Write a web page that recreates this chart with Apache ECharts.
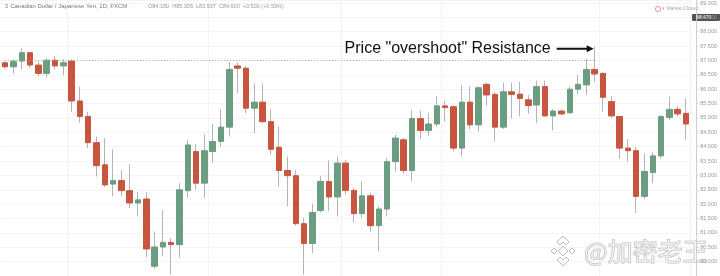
<!DOCTYPE html>
<html>
<head>
<meta charset="utf-8">
<script src="https://cdn.jsdelivr.net/npm/echarts@6/dist/echarts.min.js"></script>
<style>
html,body{margin:0;padding:0;background:#fff;}
#chart{width:720px;height:276px;}
</style>
</head>
<body>
<div id="chart"></div>
<script>
// ---- data ----
const opens  = [86.92,86.78,86.98,87.27,86.84,86.55,87.01,86.81,86.98,85.59,85.05,84.14,83.37,82.70,82.82,82.47,82.04,82.18,79.84,80.51,80.67,80.59,82.47,83.83,82.73,83.83,84.18,84.68,86.81,86.73,85.34,85.55,84.87,83.98,83.17,82.99,81.32,80.63,81.78,82.79,82.25,83.43,82.48,81.67,82.29,81.25,81.83,83.48,84.24,83.17,84.98,84.56,84.79,85.42,85.39,83.95,85.55,84.76,86.17,85.82,84.68,85.91,85.83,85.63,85.45,86.09,85.07,85.24,85.18,86.00,86.15,86.69,86.55,85.57,85.05,83.95,83.86,82.27,83.10,83.68,85.02,85.30,85.16];
const closes = [86.78,86.97,87.27,86.84,86.55,87.01,86.81,86.92,85.59,85.05,84.14,83.34,82.67,82.82,82.47,82.04,82.15,80.44,80.51,80.67,80.59,82.50,84.06,82.73,83.86,84.18,84.68,86.69,86.73,85.34,85.55,84.87,83.91,83.17,82.99,81.32,80.63,81.71,82.79,82.25,83.43,82.48,81.67,82.29,81.25,81.83,83.48,84.30,83.17,84.98,84.56,84.79,85.42,85.36,83.95,85.55,84.76,86.05,85.80,84.68,85.91,85.82,85.68,85.43,86.09,85.07,85.24,85.14,86.00,86.17,86.69,86.53,85.72,85.07,83.95,83.86,82.27,83.14,83.68,85.05,85.30,85.14,84.79];
const lows   = [86.72,86.55,86.69,86.73,86.46,86.41,86.69,86.49,85.22,84.84,83.95,82.96,82.60,82.27,82.27,81.86,81.57,80.16,79.75,80.18,79.55,80.13,82.21,82.50,82.22,83.44,84.00,84.35,85.87,85.17,84.47,84.82,83.72,82.61,81.92,81.25,79.55,80.30,81.71,81.75,81.57,82.33,81.36,81.52,81.05,80.36,81.57,83.14,83.05,82.79,84.26,84.38,84.70,84.87,83.85,83.66,84.60,84.52,85.42,84.18,84.61,84.99,85.05,85.14,84.82,85.05,84.56,85.10,85.15,85.82,85.80,86.26,85.22,85.00,83.57,83.48,81.69,82.18,82.73,83.60,84.93,85.05,84.24];
const highs  = [86.96,87.05,87.42,87.30,86.95,87.07,87.15,87.04,87.04,86.09,85.22,84.35,84.30,83.91,83.19,83.40,82.44,82.41,81.05,81.81,80.82,82.73,84.24,84.10,84.44,84.79,85.30,86.95,86.94,86.80,86.20,86.20,85.28,84.70,83.66,83.19,81.52,82.01,82.99,83.52,83.66,83.54,82.56,82.79,82.39,81.92,83.60,84.41,84.30,85.28,85.25,85.18,85.76,85.60,85.45,86.15,86.09,86.10,86.23,85.91,86.23,86.23,86.26,85.80,86.30,86.30,85.30,85.30,86.09,86.49,87.07,87.48,86.60,85.76,85.07,84.26,83.98,83.77,83.80,85.10,85.74,85.42,85.68];
const categories = opens.map((_, i) => 'D' + (i + 1));
const resistanceLevel = 87.0;
const overshootIndex = 71;
const overshootValue = 87.41;
const headerTitle = '\u2261 Canadian Dollar / Japanese Yen, 1D, FXCM \u00b7';
const headerValues = 'O84.180  H85.305  L83.937  C84.600  +0.500 (+0.59%)';
const annotationText = 'Price "overshoot" Resistance';
const badgeText = '88.470';
const watermarkText = '@\u52a0\u5bc6\u8001\u738b';

const RED = '#c8553f';
const GREEN = '#6b9e80';
const WICK = '#b4b4b4';

const wickData = opens.map((o, i) => [o, closes[i], lows[i], highs[i]]);
const bodyData = opens.map((o, i) => [o, closes[i], Math.min(o, closes[i]), Math.max(o, closes[i])]);

const chart = echarts.init(document.getElementById('chart'), null, {renderer: 'canvas'});
chart.setOption({
  animation: false,
  backgroundColor: '#ffffff',
  grid: {left: 1, right: 26, top: 0, bottom: 0, containLabel: false},
  xAxis: {
    type: 'category', data: categories, boundaryGap: true,
    axisLine: {show: false}, axisTick: {show: false}, axisLabel: {show: false},
    splitLine: {show: true, interval: (i) => [8, 25, 41, 53, 72].includes(i), lineStyle: {color: '#f3f3f3', width: 1}}
  },
  yAxis: {
    type: 'value', position: 'right', offset: 6, min: 79.5, max: 89.1, interval: 0.5,
    axisLine: {show: true, lineStyle: {color: '#cfcfcf'}},
    axisTick: {show: true, length: 2, lineStyle: {color: '#cfcfcf'}},
    axisLabel: {show: true, showMinLabel: false, showMaxLabel: false, fontSize: 5.5, color: '#9a9a9a', margin: 4,
      fontFamily: 'Liberation Sans, Arial, sans-serif', formatter: (v) => v.toFixed(3)},
    splitLine: {show: true, lineStyle: {color: '#f4f4f4', width: 1}}
  },
  series: [
    {
      type: 'candlestick', data: wickData, barWidth: 1, z: 2,
      itemStyle: {color: WICK, color0: WICK, borderColor: WICK, borderColor0: WICK, borderWidth: 1}
    },
    {
      type: 'candlestick', data: bodyData, barWidth: 6, z: 3,
      itemStyle: {color: GREEN, color0: RED, borderColor: GREEN, borderColor0: RED, borderWidth: 1},
      markLine: {
        silent: true, symbol: ['none', 'none'], label: {show: false},
        lineStyle: {color: '#a8a8a8', type: [1, 2], width: 1},
        data: [[{coord: [0, resistanceLevel]}, {coord: [overshootIndex, resistanceLevel]}]]
      }
    }
  ]
});

const tip = chart.convertToPixel({gridIndex: 0}, [overshootIndex, overshootValue]);
const tx = tip[0], ty = tip[1];
chart.setOption({
  graphic: [
    {type: 'text', left: 5, top: 3, style: {text: headerTitle, fontSize: 6, fill: '#777', fontFamily: 'Liberation Sans, Arial, sans-serif'}},
    {type: 'text', left: 148, top: 3, style: {text: headerValues, fontSize: 5.5, fill: '#999', fontFamily: 'Liberation Sans, Arial, sans-serif'}},
    {type: 'circle', shape: {cx: 658, cy: 9, r: 2.6}, style: {fill: '#fff', stroke: '#e57f7f', lineWidth: 0.8}},
    {type: 'text', x: 662, y: 9, style: {text: '\u25be Market Closed', fontSize: 5, fill: '#aaa', verticalAlign: 'middle', fontFamily: 'Liberation Sans, Arial, sans-serif'}},
    {type: 'rect', shape: {x: 692, y: 14, width: 28, height: 7, r: 1}, style: {fill: '#4f5555'}},
    {type: 'text', x: 696, y: 17.5, style: {text: badgeText, fontSize: 5, fill: '#fff', verticalAlign: 'middle', fontFamily: 'Liberation Sans, Arial, sans-serif'}},
    {type: 'text', x: tx - 44, y: ty, style: {text: annotationText, fontSize: 16, fill: '#111', align: 'right', verticalAlign: 'middle', fontFamily: 'Liberation Sans, Arial, sans-serif'}},
    {type: 'line', shape: {x1: tx - 38, y1: ty, x2: tx - 6, y2: ty}, style: {stroke: '#111', lineWidth: 2}},
    {type: 'polygon', shape: {points: [[tx - 1, ty], [tx - 8, ty - 3.5], [tx - 8, ty + 3.5]]}, style: {fill: '#111'}},
    // watermark logo
    {type: 'polygon', shape: {points: [[563, 246], [568, 251], [563, 256], [558, 251]]}, style: {fill: 'rgba(255,255,255,0.6)', stroke: '#bdbdbd', lineWidth: 1}},
    {type: 'polygon', shape: {points: [[563, 236], [569, 242], [566, 245], [563, 242], [560, 245], [557, 242]]}, style: {fill: 'rgba(255,255,255,0.6)', stroke: '#bdbdbd', lineWidth: 1}},
    {type: 'polygon', shape: {points: [[563, 266], [569, 260], [566, 257], [563, 260], [560, 257], [557, 260]]}, style: {fill: 'rgba(255,255,255,0.6)', stroke: '#bdbdbd', lineWidth: 1}},
    {type: 'polygon', shape: {points: [[551, 251], [554, 248], [557, 251], [554, 254]]}, style: {fill: 'rgba(255,255,255,0.6)', stroke: '#bdbdbd', lineWidth: 1}},
    {type: 'polygon', shape: {points: [[575, 251], [572, 248], [569, 251], [572, 254]]}, style: {fill: 'rgba(255,255,255,0.6)', stroke: '#bdbdbd', lineWidth: 1}},
    {type: 'text', x: 584, y: 251, style: {text: watermarkText, fontSize: 25, fill: 'rgba(255,255,255,0.55)', stroke: '#b8b8b8', lineWidth: 1, verticalAlign: 'middle', fontFamily: 'Noto Sans CJK SC, sans-serif'}}
  ]
});
</script>
</body>
</html>
